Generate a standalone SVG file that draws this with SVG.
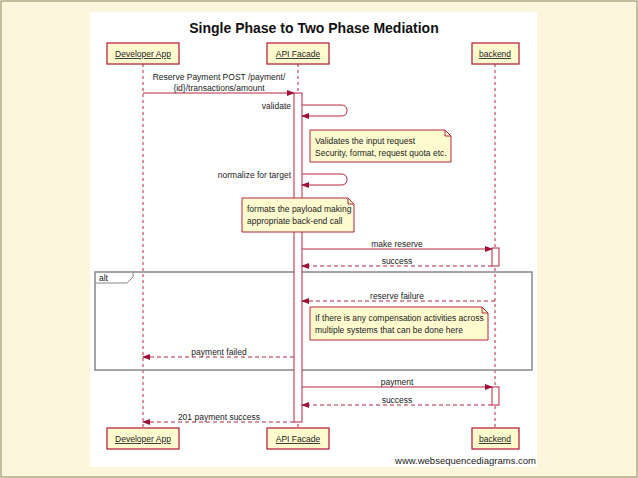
<svg xmlns="http://www.w3.org/2000/svg" width="638" height="478" viewBox="0 0 638 478">
<style>
text{font-family:"Liberation Sans",Arial,sans-serif;font-size:8.5px;fill:#222}
.box{fill:#fefccf;stroke:#b7263f;stroke-width:1.3}
.ll{stroke:#b7263f;stroke-width:1;stroke-dasharray:3,3;fill:none}
.act{fill:#fff;stroke:#b7263f;stroke-width:1}
.m{stroke:#b7263f;stroke-width:1;fill:none}
.r{stroke:#b7263f;stroke-width:1;fill:none;stroke-dasharray:4,3}
.note{fill:#fefccf;stroke:#b7263f;stroke-width:1}
.hd{text-decoration:underline;text-anchor:middle}
</style>
<defs><marker id="a" markerWidth="8" markerHeight="6" refX="7" refY="3" orient="auto" markerUnits="userSpaceOnUse"><path d="M0,0L8,3L0,6z" fill="#a0123a"/></marker></defs>
<rect width="638" height="478" fill="#fbf6dc"/>
<rect x="1" y="1" width="636" height="476" fill="none" stroke="#8a8660"/>
<rect x="90" y="12" width="447" height="455" fill="#fff"/>
<text x="314" y="33" style="font-size:14px;font-weight:bold;fill:#111" text-anchor="middle">Single Phase to Two Phase Mediation</text>
<g id="lifelines">
<line class="ll" x1="143" y1="64" x2="143" y2="428"/>
<line class="ll" x1="298" y1="64" x2="298" y2="428"/>
<line class="ll" x1="495" y1="64" x2="495" y2="428"/>
</g>
<g id="alt"><rect x="95" y="272" width="437" height="98" fill="none" stroke="#888" stroke-width="1.5"/><path d="M95,283H127L133,277V272" fill="none" stroke="#888"/><text x="99" y="281">alt</text></g>
<g id="activations">
<rect class="act" x="294" y="93" width="8" height="329"/>
<rect class="act" x="492" y="248" width="7" height="18"/>
<rect class="act" x="492" y="387" width="7" height="18"/>
</g>
<g id="dev-top"><rect class="box" x="107" y="43" width="72" height="21"/><text class="hd" x="143" y="57">Developer App</text></g>
<g id="api-top"><rect class="box" x="267" y="43" width="62" height="21"/><text class="hd" x="298" y="57">API Facade</text></g>
<g id="be-top"><rect class="box" x="472" y="43" width="47" height="21"/><text class="hd" x="495" y="57">backend</text></g>
<g id="dev-bot"><rect class="box" x="107" y="428" width="72" height="21"/><text class="hd" x="143" y="442">Developer App</text></g>
<g id="api-bot"><rect class="box" x="267" y="428" width="62" height="21"/><text class="hd" x="298" y="442">API Facade</text></g>
<g id="be-bot"><rect class="box" x="472" y="428" width="47" height="21"/><text class="hd" x="495" y="442">backend</text></g>
<g id="note1"><path class="note" d="M310,130H445L451,136V162H310Z"/><path d="M445,130V136H451" fill="none" stroke="#b7263f"/><text x="315" y="144">Validates the input request</text><text x="315" y="156">Security, format, request quota etc.</text></g>
<g id="note2"><path class="note" d="M242,198H348L354,204V232H242Z"/><path d="M348,198V204H354" fill="none" stroke="#b7263f"/><text x="247" y="212">formats the payload making</text><text x="247" y="224">appropriate back-end call</text></g>
<g id="note3"><path class="note" d="M310,307H482L488,313V340H310Z"/><path d="M482,307V313H488" fill="none" stroke="#b7263f"/><text x="315" y="321">If there is any compensation activities across</text><text x="315" y="333">multiple systems that can be done here</text></g>
<g id="connectors">
<line class="m" x1="143" y1="93" x2="294" y2="93" marker-end="url(#a)"/>
<path class="m" d="M302,105H341Q347,105 347,110.5Q347,116 341,116H302" marker-end="url(#a)"/>
<path class="m" d="M302,174H341Q347,174 347,179.5Q347,185 341,185H302" marker-end="url(#a)"/>
<line class="m" x1="302" y1="249" x2="492" y2="249" marker-end="url(#a)"/>
<line class="r" x1="492" y1="266" x2="302" y2="266" marker-end="url(#a)"/>
<line class="r" x1="495" y1="301" x2="302" y2="301" marker-end="url(#a)"/>
<line class="r" x1="294" y1="357" x2="143" y2="357" marker-end="url(#a)"/>
<line class="m" x1="302" y1="387" x2="492" y2="387" marker-end="url(#a)"/>
<line class="r" x1="492" y1="405" x2="302" y2="405" marker-end="url(#a)"/>
<line class="r" x1="294" y1="422" x2="143" y2="422" marker-end="url(#a)"/>
</g>
<g id="labels">
<text x="219" y="80" text-anchor="middle">Reserve Payment POST /payment/</text>
<text x="219" y="91" text-anchor="middle">{id}/transactions/amount</text>
<text x="291" y="109" text-anchor="end">validate</text>
<text x="291" y="178" text-anchor="end">normalize for target</text>
<text x="397" y="247" text-anchor="middle">make reserve</text>
<text x="397" y="264" text-anchor="middle">success</text>
<text x="397" y="299" text-anchor="middle">reserve failure</text>
<text x="219" y="355" text-anchor="middle">payment failed</text>
<text x="397" y="385" text-anchor="middle">payment</text>
<text x="397" y="403" text-anchor="middle">success</text>
<text x="219" y="420" text-anchor="middle">201 payment success</text>
<text x="536" y="464" text-anchor="end" style="font-size:9.5px">www.websequencediagrams.com</text>
</g>
</svg>
